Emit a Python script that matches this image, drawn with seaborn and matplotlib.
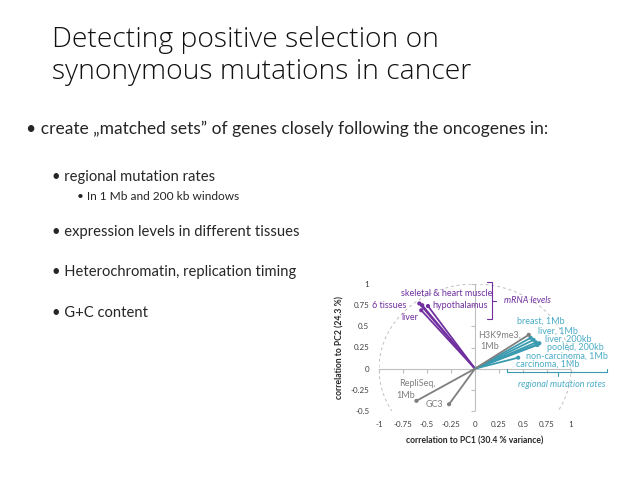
import numpy as np
import pandas as pd
import matplotlib
matplotlib.use("Agg")
import matplotlib.pyplot as plt
import seaborn as sns

# dati (correlazioni con PC1 / PC2)
mrna_labels = ["skeletal & heart muscle", "6 tissues", "hypothalamus", "liver"]
mrna_pc1 = [-0.58, -0.55, -0.49, -0.56]
mrna_pc2 = [0.77, 0.75, 0.74, 0.69]

rate_labels = ["breast, 1Mb", "liver, 1Mb", "liver, 200kb", "pooled, 200kb",
               "non-carcinoma, 1Mb", "carcinoma, 1Mb"]
rate_pc1 = [0.58, 0.61, 0.635, 0.67, 0.65, 0.45]
rate_pc2 = [0.365, 0.34, 0.31, 0.30, 0.28, 0.13]

other_labels = ["H3K9me3,\n1Mb", "RepliSeq,\n1Mb", "GC3"]
other_pc1 = [0.56, -0.61, -0.27]
other_pc2 = [0.40, -0.38, -0.42]

x_ticks = [-1, -0.75, -0.5, -0.25, 0, 0.25, 0.5, 0.75, 1]
y_ticks = [-0.5, -0.25, 0, 0.25, 0.5, 0.75, 1]

PURPLE = "#7030A0"
TEAL_LINE = "#3A9BB0"
TEAL_TEXT = "#4BACC6"
GREY = "#7F7F7F"

sns.set_style("white")
plt.rcParams["font.family"] = ["Lato", "DejaVu Sans"]

fig = plt.figure(figsize=(6.38, 4.79), dpi=100)

# testo della slide (titolo in un carattere sottile)
for ty, line in [(40, "Detecting positive selection on"),
                 (72, "synonymous mutations in cancer")]:
    fig.text(52 / 638, 1 - ty / 479, line, fontsize=20.3, color="#111111",
             family=["Open Sans", "DejaVu Sans"], fontweight="light",
             va="center", ha="left")

bullets = [
    (26, 129, "\u2022 create \u201ematched sets\u201d of genes closely following the oncogenes in:", 12.5),
    (52, 177, "\u2022 regional mutation rates", 10.6),
    (77, 197, "\u2022 In 1 Mb and 200 kb windows", 8.6),
    (52, 232, "\u2022 expression levels in different tissues", 10.6),
    (52, 272, "\u2022 Heterochromatin, replication timing", 10.6),
    (52, 313, "\u2022 G+C content", 10.6),
]
for bx, by, txt, fs in bullets:
    fig.text(bx / 638, 1 - by / 479, txt, fontsize=fs, va="center", ha="left")

# grafico PCA
ax = fig.add_axes([379 / 638, 1 - 411 / 479, 192 / 638, 127 / 479])

rows = []
for grp, labs, xs, ys in [("mrna", mrna_labels, mrna_pc1, mrna_pc2),
                          ("rate", rate_labels, rate_pc1, rate_pc2),
                          ("other", other_labels, other_pc1, other_pc2)]:
    for lab, x, y in zip(labs, xs, ys):
        rows.append({"group": grp, "name": lab, "pc1": 0.0, "pc2": 0.0})
        rows.append({"group": grp, "name": lab, "pc1": x, "pc2": y})
df = pd.DataFrame(rows)
ends = df.iloc[1::2]
pal = {"mrna": PURPLE, "rate": TEAL_LINE, "other": GREY}

# cerchio unitario tratteggiato
t = np.linspace(0, 2 * np.pi, 300)
ax.plot(np.cos(t), np.sin(t), ls=(0, (3, 3)), color="#BFBFBF", lw=0.7, zorder=1)

# assi passanti per lo zero
ax.axhline(0, color="#BFBFBF", lw=0.8, zorder=1)
ax.axvline(0, color="#BFBFBF", lw=0.8, zorder=1)
ax.plot(np.zeros(len(y_ticks)), y_ticks, ls="none", marker=0, ms=3,
        mew=0.8, color="#BFBFBF", clip_on=False)
ax.plot(x_ticks, np.zeros(len(x_ticks)), ls="none", marker=3, ms=3,
        mew=0.8, color="#BFBFBF", clip_on=False)

sns.lineplot(data=df, x="pc1", y="pc2", hue="group", units="name",
             estimator=None, sort=False, palette=pal, lw=1.3,
             legend=False, ax=ax, zorder=3)
sns.scatterplot(data=ends, x="pc1", y="pc2", hue="group", palette=pal,
                s=9, linewidth=0, legend=False, ax=ax, zorder=4)

fs = 6.5
ax.text(-0.30, 0.89, "skeletal & heart muscle", color=PURPLE, fontsize=fs,
        ha="center", va="center")
ax.text(-0.72, 0.75, "6 tissues", color=PURPLE, fontsize=fs, ha="right", va="center")
ax.text(-0.15, 0.75, "hypothalamus", color=PURPLE, fontsize=fs, ha="center", va="center")
ax.text(-0.68, 0.61, "liver", color=PURPLE, fontsize=fs, ha="center", va="center")
ax.plot([0.12, 0.18, 0.18, 0.12], [1.02, 1.02, 0.59, 0.59], color=PURPLE,
        lw=0.8, clip_on=False)
ax.plot([0.18, 0.22], [0.80, 0.80], color=PURPLE, lw=0.8, clip_on=False)
ax.text(0.55, 0.80, "mRNA levels", color=PURPLE, fontsize=fs, style="italic",
        ha="center", va="center")

ax.text(0.03, 0.40, "H3K9me3,", color=GREY, fontsize=fs, ha="left", va="center")
ax.text(0.05, 0.26, "1Mb", color=GREY, fontsize=fs, ha="left", va="center")
ax.text(-0.60, -0.18, "RepliSeq,", color=GREY, fontsize=fs, ha="center", va="center")
ax.text(-0.72, -0.32, "1Mb", color=GREY, fontsize=fs, ha="center", va="center")
ax.text(-0.33, -0.42, "GC3", color=GREY, fontsize=fs, ha="right", va="center")

teal_pos = [(0.69, 0.56), (0.86, 0.44), (0.97, 0.345), (1.05, 0.245),
            (0.96, 0.15), (0.76, 0.055)]
for lab, (tx, ty) in zip(rate_labels, teal_pos):
    ax.text(tx, ty, lab, color=TEAL_TEXT, fontsize=fs, ha="center",
            va="center", clip_on=False)
ax.plot([0.33, 0.33, 1.375, 1.375], [0.0, -0.04, -0.04, 0.0], color=TEAL_LINE,
        lw=0.8, clip_on=False)
ax.plot([0.86, 0.86], [-0.04, -0.09], color=TEAL_LINE, lw=0.8, clip_on=False)
ax.text(0.90, -0.19, "regional mutation rates", color=TEAL_TEXT, fontsize=fs,
        style="italic", ha="center", va="center", clip_on=False)

ax.set_xlim(-1, 1)
ax.set_ylim(-0.5, 1)
ax.set_xticks(x_ticks)
ax.set_yticks(y_ticks)
ax.set_xticklabels([f"{v:g}" for v in x_ticks])
ax.set_yticklabels([f"{v:g}" for v in y_ticks])
ax.tick_params(length=0, labelsize=5.8, colors="#404040", pad=7)
ax.set_xlabel("correlation to PC1 (30.4 % variance)", fontsize=6.2,
              fontweight="bold", labelpad=6)
ax.set_ylabel("correlation to PC2 (24.3 %)", fontsize=6.2, fontweight="bold",
              labelpad=4)
sns.despine(ax=ax, left=True, bottom=True)
ax.set_facecolor("none")

fig.savefig("out.png", dpi=100)
